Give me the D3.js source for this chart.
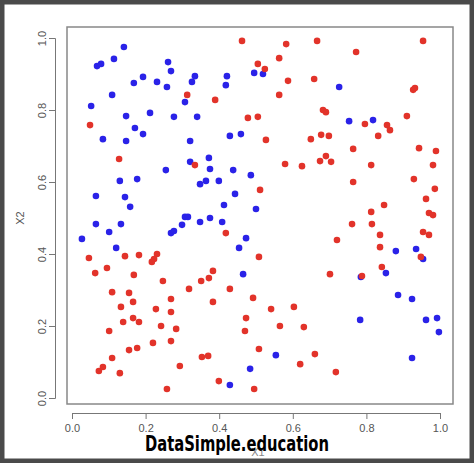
<!DOCTYPE html>
<html><head><meta charset="utf-8">
<script src="https://cdn.jsdelivr.net/npm/d3@7"></script>
<style>body{margin:0;background:#fff}</style></head>
<body><svg id="c" width="474" height="463"></svg>
<script>
const xTicks=[0,0.2,0.4,0.6,0.8,1.0];
const yTicks=[0,0.2,0.4,0.6,0.8,1.0];
const blueX=[.141,.068,.079,.114,.261,.269,.168,.193,.231,.258,.334,.326,.421,.418,.495,.519,.109,.052,.147,.212,.277,.340,.307,.171,.193,.084,.147,.321,.429,.459,.372,.321,.375,.255,.438,.486,.130,.177,.348,.364,.399,.065,.144,.443,.158,.413,.500,.307,.315,.375,.065,.101,.133,.027,.120,.269,.277,.299,.348,.408,.473,.454,.465,.484,.429,.726,.753,.818,.880,.935,.954,.785,.853,.886,.924,.783,.962,.992,.997,.554,.924];
const blueY=[.975,.922,.928,.942,.933,.908,.875,.892,.878,.864,.894,.878,.894,.869,.903,.900,.842,.811,.783,.792,.781,.781,.822,.750,.733,.719,.714,.714,.728,.733,.667,.656,.636,.633,.633,.619,.603,.608,.594,.603,.603,.561,.558,.567,.531,.536,.525,.503,.503,.500,.483,.461,.483,.442,.417,.458,.464,.481,.489,.489,.444,.417,.344,.081,.036,.864,.769,.772,.408,.414,.386,.336,.347,.286,.275,.217,.217,.222,.183,.119,.111];
const redX=[.462,.505,.313,.389,.478,.505,.049,.128,.334,.511,.418,.046,.144,.182,.231,.223,.217,.508,.063,.095,.168,.247,.109,.155,.351,.372,.383,.318,.429,.166,.133,.269,.228,.383,.492,.166,.139,.182,.269,.473,.101,.242,.283,.470,.220,.155,.177,.269,.508,.109,.353,.370,.073,.084,.130,.293,.399,.258,.495,.582,.666,.954,.772,.563,.524,.587,.658,.563,.927,.932,.682,.690,.910,.796,.856,.864,.832,.527,.649,.677,.698,.764,.943,.989,.579,.625,.674,.690,.704,.813,.981,.929,.764,.986,.962,.848,.813,.970,.981,.761,.815,.837,.954,.970,.720,.837,.948,.842,.701,.788,.541,.603,.565,.630,.660,.620,.717];
const redY=[.992,.928,.842,.828,.778,.781,.758,.664,.647,.578,.458,.389,.394,.397,.400,.386,.378,.392,.347,.361,.342,.325,.294,.292,.325,.333,.353,.303,.303,.267,.253,.275,.247,.267,.278,.222,.211,.211,.239,.222,.186,.200,.192,.186,.153,.133,.139,.158,.136,.111,.114,.117,.075,.086,.069,.089,.047,.025,.025,.983,.992,.992,.961,.944,.914,.881,.886,.842,.856,.861,.800,.794,.783,.761,.758,.744,.728,.717,.719,.731,.728,.692,.694,.686,.650,.644,.658,.672,.656,.647,.647,.608,.600,.581,.553,.536,.517,.514,.508,.483,.483,.453,.461,.453,.439,.419,.392,.364,.344,.339,.247,.253,.200,.197,.122,.094,.072];

const svg=d3.select("#c");
svg.append("rect").attr("x",2).attr("y",2).attr("width",470).attr("height",459).attr("fill","#fff").attr("stroke","#4a4a4a").attr("stroke-width",5);
const x=d3.scaleLinear().domain([0,1]).range([72,440]);
const y=d3.scaleLinear().domain([0,1]).range([398,38]);
svg.append("rect").attr("x",67).attr("y",27).attr("width",386).attr("height",377).attr("fill","none").attr("stroke","#888").attr("stroke-width",1.5);
const font="Liberation Sans, Arial, sans-serif";
const xa=svg.append("g").attr("transform","translate(0,413)").call(d3.axisBottom(x).tickValues(xTicks).tickFormat(d3.format(".1f")).tickSizeOuter(0).tickSize(6).tickPadding(5));
const ya=svg.append("g").attr("transform","translate(55,0)").call(d3.axisLeft(y).tickValues(yTicks).tickFormat(d3.format(".1f")).tickSizeOuter(0).tickSize(6).tickPadding(5));
[xa,ya].forEach(a=>{a.select(".domain").attr("stroke","#777");a.selectAll("line").attr("stroke","#777");a.selectAll("text").attr("fill","#555").attr("font-size",11).attr("font-family",font);});
ya.selectAll("text").attr("x",0).attr("y",0).attr("dy",0).attr("transform","translate(-9,0) rotate(-90)").attr("text-anchor","middle");
svg.append("text").attr("transform","translate(24,218) rotate(-90)").attr("text-anchor","middle").attr("font-size",11).attr("fill","#555").attr("font-family",font).text("X2");
svg.append("text").attr("x",258).attr("y",456).attr("text-anchor","middle").attr("font-size",11).attr("fill","#888").attr("font-family",font).text("X1");
const pts=svg.append("g");
pts.selectAll(".b").data(blueX.map((v,i)=>[v,blueY[i]])).join("circle").attr("cx",d=>x(d[0])).attr("cy",d=>y(d[1])).attr("r",3.3).attr("fill","#2a22e8");
pts.selectAll(".r").data(redX.map((v,i)=>[v,redY[i]])).join("circle").attr("cx",d=>x(d[0])).attr("cy",d=>y(d[1])).attr("r",3.3).attr("fill","#e2332a");
svg.append("text").attr("x",237).attr("y",451).attr("text-anchor","middle").attr("font-size",21).attr("font-weight","bold").attr("font-family","DejaVu Sans Condensed, Liberation Sans Narrow, sans-serif").attr("fill","#000").attr("textLength",184).attr("lengthAdjust","spacingAndGlyphs").text("DataSimple.education");
</script></body></html>
